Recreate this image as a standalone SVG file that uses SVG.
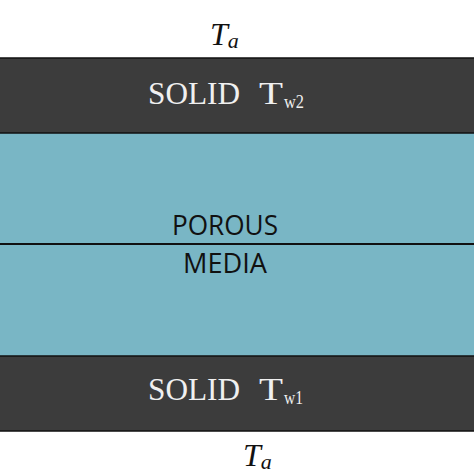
<svg xmlns="http://www.w3.org/2000/svg" width="474" height="474" viewBox="0 0 474 474">
<style>
.solid{fill:#3c3c3c;stroke:#111;stroke-width:1.5}
.porous{fill:#79b6c5}
.serif{font-family:"Liberation Serif",serif;fill:#f0f0f0;font-size:32px}
.sub{font-family:"Liberation Serif",serif;fill:#f0f0f0;font-size:19px}
.it{font-family:"Liberation Serif",serif;font-style:italic;fill:#111}
.sans{font-family:"Open Sans","Liberation Sans",sans-serif;fill:#111;font-size:28px}
</style>
<rect width="474" height="474" fill="#fff"/>
<g id="porous">
<rect class="porous" x="0" y="133" width="474" height="223"/>
<line x1="0" y1="244" x2="474" y2="244" stroke="#111" stroke-width="2"/>
<text class="sans" x="172" y="235" textLength="106" lengthAdjust="spacingAndGlyphs">POROUS</text>
<text class="sans" x="183" y="273" textLength="84" lengthAdjust="spacingAndGlyphs">MEDIA</text>
</g>
<g id="solid-top">
<rect class="solid" x="-2" y="58" width="478" height="75"/>
<text class="serif" x="148" y="104" textLength="92" lengthAdjust="spacingAndGlyphs">SOLID</text>
<text class="serif" x="259" y="104" textLength="24" lengthAdjust="spacingAndGlyphs">T</text>
<text class="sub" x="284" y="108" textLength="20" lengthAdjust="spacingAndGlyphs">w2</text>
</g>
<g id="solid-bottom">
<rect class="solid" x="-2" y="356" width="478" height="75"/>
<text class="serif" x="148" y="400" textLength="92" lengthAdjust="spacingAndGlyphs">SOLID</text>
<text class="serif" x="259" y="400" textLength="24" lengthAdjust="spacingAndGlyphs">T</text>
<text class="sub" x="284" y="404" textLength="19" lengthAdjust="spacingAndGlyphs">w1</text>
</g>
<g id="ambient-top">
<text class="it" x="210" y="45" font-size="32">T<tspan font-size="22" dy="3">a</tspan></text>
</g>
<g id="ambient-bottom">
<text class="it" x="243" y="466" font-size="32">T<tspan font-size="22" dy="3">a</tspan></text>
</g>
</svg>
